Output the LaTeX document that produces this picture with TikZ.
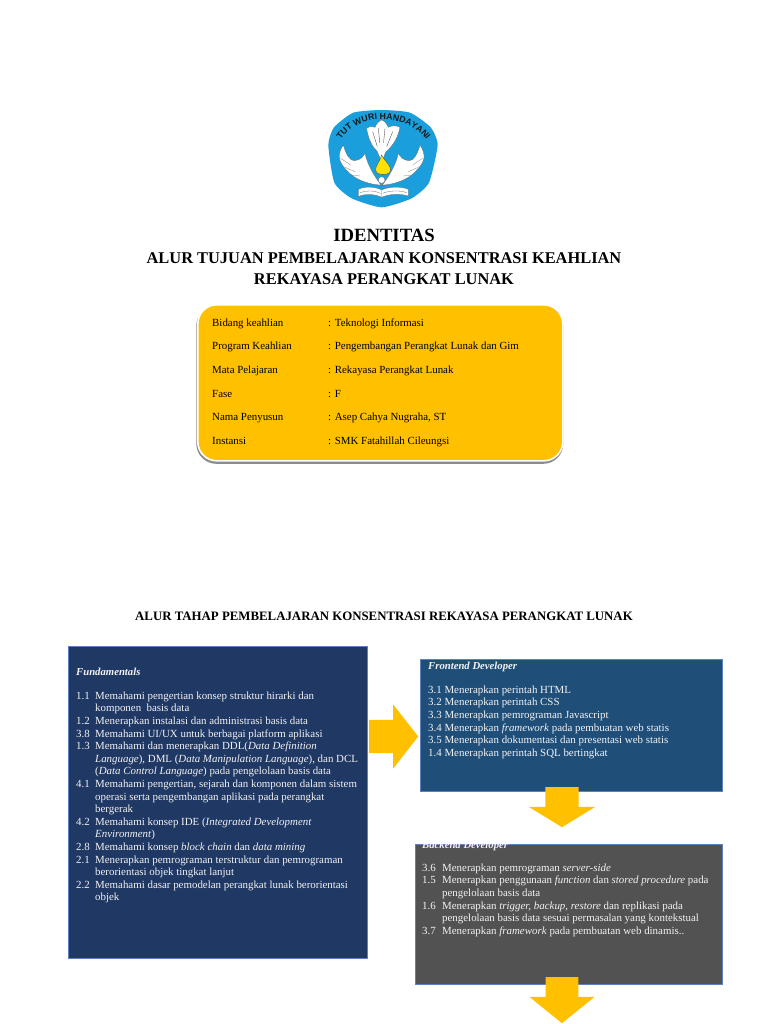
\documentclass[tikz,border=0pt]{standalone}
\usepackage{fontspec}
\setmainfont{Liberation Serif}
\newfontfamily\logofont{Liberation Sans}
\usetikzlibrary{shapes.arrows,decorations.text,positioning}
\definecolor{gold}{HTML}{FFC000}
\definecolor{navy}{HTML}{1F3864}
\definecolor{steel}{HTML}{1F4E79}
\definecolor{slate}{HTML}{525252}
\definecolor{edge}{HTML}{5B82BE}
\definecolor{logoblue}{HTML}{1A9FDC}
\definecolor{softwhite}{HTML}{F2F2F2}
\newcommand{\numrow}[2]{\makebox[19pt][l]{#1}#2\\}
\newcommand{\controw}[1]{\hspace*{19pt}#1\\}
\tikzset{
  titletext/.style={font=\bfseries\fontsize{16.4}{16.4}\selectfont,inner sep=0pt,anchor=base},
  panel/.style={draw=edge,line width=0.7pt,inner sep=0pt,anchor=north west},
  paneltext/.style={text=softwhite,inner sep=0pt,anchor=base west,align=left,
     font=\fontsize{10.9}{12.6}\selectfont},
  paneltitle/.style={text=softwhite,inner sep=0pt,anchor=base west,
     font=\bfseries\itshape\fontsize{10.7}{12.6}\selectfont},
  infotext/.style={text=black,inner sep=0pt,anchor=base west,font=\fontsize{10.9}{12}\selectfont},
  blockarrow/.style={single arrow,fill=gold,inner xsep=0pt,anchor=tail,
     single arrow head indent=0pt},
  logoshape/.style={fill=white,draw=black!65,line width=0.25pt},
}
\begin{document}
\begin{tikzpicture}[x=1pt,y=-1pt]
\useasboundingbox[fill=white] (0,0) rectangle (768,1024);

% logo
\begin{scope}[shift={(310,90)},x=0.3333pt,y=-0.3333pt]
  \fill[logoblue] plot[smooth cycle,tension=0.35] coordinates {(215,60) (300,68) (362,112) (383,165) (357,278) (305,325) (215,352) (125,325) (73,278) (55,165) (72,112) (130,68)};
  \path[decorate,decoration={text along path,raise=0pt,text align=center,
    text={|\logofont\bfseries\fontsize{8.8}{8.8}\selectfont\color{black!90}|TUT WURI HANDAYANI}}]
    (92,150) .. controls (140,68) and (290,68) .. (350,150);
  \foreach \m in {0,1}{
    \begin{scope}[shift={(\m*430,0)},xscale={1-2*\m}]
      \draw[logoshape] (100,165) .. controls (108,195) and (120,212) .. (132,212) .. controls (150,212) and (160,200) .. (165,190) .. controls (172,225) and (195,262) .. (213,285) .. controls (190,285) and (150,275) .. (125,255) .. controls (105,238) and (85,215) .. (88,195) .. controls (90,182) and (95,172) .. (100,165) -- cycle;
      \draw[black!55,line width=0.25pt] (92,205) -- (122,225) (105,232) -- (135,245) (125,255) -- (150,258);
    \end{scope}
  }
  \draw[logoshape] (170,115) .. controls (180,108) and (190,108) .. (195,112) .. controls (200,100) and (208,92) .. (215,90) .. controls (222,92) and (230,100) .. (235,112) .. controls (245,106) and (258,106) .. (270,112) .. controls (262,150) and (245,170) .. (228,185) -- (215,215) -- (202,185) .. controls (188,170) and (175,150) .. (170,115) -- cycle;
  \draw[black!70,line width=0.35pt] (188,125) -- (202,170) (205,115) -- (210,165) (225,115) -- (220,165) (248,125) -- (230,170);
  \fill[white] (215,165) circle (9);
  \draw[fill=yellow!85!orange,draw=black!70,line width=0.3pt] (215,195) .. controls (222,215) and (247,225) .. (240,245) .. controls (235,257) and (195,257) .. (197,238) .. controls (198,225) and (210,215) .. (215,195) -- cycle;
  \draw[logoshape] (215,270) circle (10);
  \draw[logoshape] (145,298) .. controls (165,288) and (195,290) .. (215,300) .. controls (235,290) and (270,288) .. (295,298) -- (295,318) .. controls (270,310) and (235,312) .. (215,322) .. controls (195,312) and (165,310) .. (145,320) -- cycle;
  \draw[black!60,line width=0.3pt] (215,300) -- (215,322) (150,308) .. controls (170,300) and (195,302) .. (212,310) (290,308) .. controls (270,300) and (235,302) .. (218,310);
\end{scope}

% titles
\node[titletext,font=\bfseries\fontsize{18.7}{18.7}\selectfont] (identitas) at (384,241) {IDENTITAS};
\node[titletext] (alur) at (384,263) {ALUR TUJUAN PEMBELAJARAN KONSENTRASI KEAHLIAN};
\node[titletext] (rpl) at (384,284) {REKAYASA PERANGKAT LUNAK};

% info panel
\node[anchor=north west,minimum width=365pt,minimum height=156pt,inner sep=0pt,
  rounded corners=19pt,fill=gold,draw=white,line width=1.6pt,
  preaction={draw=black!45,line width=2pt,fill=black!45,transform canvas={yshift=-2pt,xshift=-0.5pt}}]
  (info) at (197,304) {};
\node[infotext] (k1) at (212,326) {Bidang keahlian};
\node[infotext] (v1) at (328,326) {: Teknologi Informasi};
\node[infotext] (k2) at (212,349) {Program Keahlian};
\node[infotext] (v2) at (328,349) {: Pengembangan Perangkat Lunak dan Gim};
\node[infotext] (k3) at (212,373) {Mata Pelajaran};
\node[infotext] (v3) at (328,373) {: Rekayasa Perangkat Lunak};
\node[infotext] (k4) at (212,397) {Fase};
\node[infotext] (v4) at (328,397) {: F};
\node[infotext] (k5) at (212,420) {Nama Penyusun};
\node[infotext] (v5) at (328,420) {: Asep Cahya Nugraha, ST};
\node[infotext] (k6) at (212,444) {Instansi};
\node[infotext] (v6) at (328,444) {: SMK Fatahillah Cileungsi};

\node[titletext,font=\bfseries\fontsize{12.85}{13}\selectfont] (tahap) at (384,620) {ALUR TAHAP PEMBELAJARAN KONSENTRASI REKAYASA PERANGKAT LUNAK};

% panels
\node[panel,fill=navy,minimum width=299.5pt,minimum height=312pt] (fund) at (67.5,646) {};
\node[panel,fill=steel,minimum width=302pt,minimum height=132pt] (front) at (420,659) {};
\node[panel,fill=slate,minimum width=307pt,minimum height=140pt] (back) at (415,844) {};

% fundamentals text
\node[paneltitle] (fundt) at (76,675.5) {Fundamentals};
\node[paneltext,anchor=north west] (fundb) at (76,691.5) {%
\numrow{1.1}{Memahami pengertian konsep struktur hirarki dan}
\controw{komponen\ \ basis data}
\numrow{1.2}{Menerapkan instalasi dan administrasi basis data}
\numrow{3.8}{Memahami UI/UX untuk berbagai platform aplikasi}
\numrow{1.3}{Memahami dan menerapkan DDL(\textit{Data Definition}}
\controw{\textit{Language}), DML (\textit{Data Manipulation Language}), dan DCL}
\controw{(\textit{Data Control Language}) pada pengelolaan basis data}
\numrow{4.1}{Memahami pengertian, sejarah dan komponen dalam sistem}
\controw{operasi serta pengembangan aplikasi pada perangkat}
\controw{bergerak}
\numrow{4.2}{Memahami konsep IDE (\textit{Integrated Development}}
\controw{\textit{Environment})}
\numrow{2.8}{Memahami konsep \textit{block chain} dan \textit{data mining}}
\numrow{2.1}{Menerapkan pemrograman terstruktur dan pemrograman}
\controw{berorientasi objek tingkat lanjut}
\numrow{2.2}{Memahami dasar pemodelan perangkat lunak berorientasi}
\controw{objek}};

% frontend text
\node[paneltitle] (frontt) at (428,669.5) {Frontend Developer};
\node[paneltext,anchor=north west] (frontb) at (428,685.5) {%
3.1 Menerapkan perintah HTML\\
3.2 Menerapkan perintah CSS\\
3.3 Menerapkan pemrograman Javascript\\
3.4 Menerapkan \textit{framework} pada pembuatan web statis\\
3.5 Menerapkan dokumentasi dan presentasi web statis\\
1.4 Menerapkan perintah SQL bertingkat\\};

% backend text
\begin{scope}
  \clip (back.north west) rectangle (back.south east);
  \node[paneltitle] (backt) at (422,848) {Backend Developer};
\end{scope}
\node[paneltext,anchor=north west] (backb) at (422,863.5) {%
\makebox[20pt][l]{3.6}Menerapkan pemrograman \textit{server-side}\\
\makebox[20pt][l]{1.5}Menerapkan penggunaan \textit{function} dan \textit{stored procedure} pada\\
\hspace*{20pt}pengelolaan basis data\\
\makebox[20pt][l]{1.6}Menerapkan \textit{trigger, backup, restore} dan replikasi pada\\
\hspace*{20pt}pengelolaan basis data sesuai permasalan yang kontekstual\\
\makebox[20pt][l]{3.7}Menerapkan \textit{framework} pada pembuatan web dinamis..\\};

% block arrows
\node[blockarrow,inner ysep=16.5pt,minimum height=49pt,minimum width=64pt,single arrow head extend=15.5pt,single arrow tip angle=104] (a1) at (369,736.5) {};
\node[blockarrow,inner ysep=16.5pt,rotate=-90,minimum height=40pt,minimum width=66pt,single arrow head extend=16.5pt,single arrow tip angle=117] (a2) at (562,787) {};
\node[blockarrow,inner ysep=16pt,rotate=-90,minimum height=46pt,minimum width=65pt,single arrow head extend=16pt,single arrow tip angle=102] (a3) at (562,977) {};
\end{tikzpicture}
\end{document}
